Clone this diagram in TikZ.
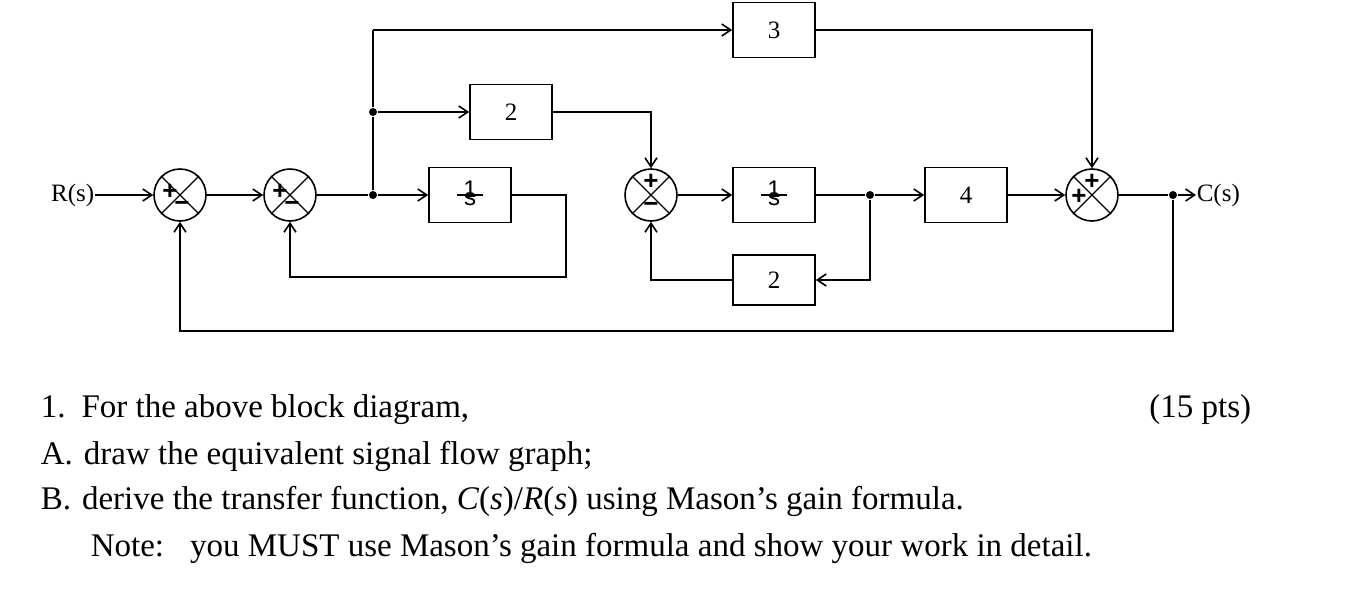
\documentclass[tikz,border=0pt]{standalone}
\usepackage{fontspec}
\setmainfont{Liberation Serif}
\newfontfamily\arialf{Liberation Sans}
\usetikzlibrary{arrows.meta}
\begin{document}
\begin{tikzpicture}[x=1pt,y=-1pt,line width=1.6pt,
  blk/.style={draw,minimum width=82pt,minimum height=55pt,inner sep=0pt,font=\fontsize{25}{25}\selectfont},
  sm/.style={draw,circle,minimum size=52pt,inner sep=0pt},
  dot/.style={circle,fill,inner sep=0pt,minimum size=8pt},
  ar/.style={-{Straight Barb[length=9pt,width=12pt]}},
  sg/.style={font=\fontsize{26}{26}\selectfont\bfseries\arialf,inner sep=0pt},
  fr/.style={font=\fontsize{24}{24}\selectfont\arialf,inner sep=0pt},
  txt/.style={anchor=base west,font=\fontsize{33}{33}\selectfont,inner sep=0pt}]
\useasboundingbox (0,0) rectangle (1360,600);
\node[anchor=east,inner sep=0pt,font=\fontsize{25}{25}\selectfont] (R) at (95,195) {R(s)};
\node[sm] (s1) at (180,195) {};
\node[sm] (s2) at (290,195) {};
\node[sm] (s3) at (651,195) {};
\node[sm] (s4) at (1092,195) {};
\foreach \s in {s1,s2,s3,s4}{\draw[line width=1.3pt] (\s.north west)--(\s.south east) (\s.north east)--(\s.south west);}
\node[sg] at (170,192) {+}; \node[sg] at (182,206) {−};
\node[sg] at (280,192) {+}; \node[sg] at (292,206) {−};
\node[sg] at (651,182) {+}; \node[sg] at (651,207) {−};
\node[sg] at (1079,197) {+}; \node[sg] at (1092,182) {+};
\node[blk] (i1) at (470,195) {};
\node[blk] (i2) at (774,195) {};
\foreach \b in {i1,i2}{
  \node[fr,anchor=south] at ([yshift=-3pt]\b.center) {1};
  \node[fr,anchor=north] at ([yshift=3pt]\b.center) {s};
  \draw[line width=1.6pt] ([xshift=-13pt]\b.center)--([xshift=13pt]\b.center);}
\node[blk] (b3) at (774,30) {3};
\node[blk] (b2) at (511,112) {2};
\node[blk] (b4) at (966,195) {4};
\node[blk,minimum height=50pt] (b2l) at (774,280) {2};
\node[dot] (d1) at (373,195) {};
\node[dot] (d2) at (373,112) {};
\node[dot] (d3) at (870,195) {};
\node[dot] (d4) at (1173,195) {};
\node[anchor=west,inner sep=0pt,font=\fontsize{25}{25}\selectfont] (C) at (1196,195) {C(s)};
\coordinate (t) at (373,30);
\draw[ar] (R)--(s1);
\draw[ar] (s1)--(s2);
\draw (s2)--(d1);
\draw[ar] (d1)--(i1);
\draw[ar] (i1.east)--(566,195)--(566,277)--(290,277)--(s2.south);
\draw (d1)--(d2)--(t);
\draw[ar] (d2)--(b2);
\draw[ar] (t)--(b3);
\draw[ar] (b2.east)--(651,112)--(s3.north);
\draw[ar] (s3)--(i2);
\draw (i2)--(d3);
\draw[ar] (d3)--(b4);
\draw[ar] (d3)--(870,280)--(b2l.east);
\draw[ar] (b2l.west)--(651,280)--(s3.south);
\draw[ar] (b4)--(s4);
\draw[ar] (b3.east)--(1092,30)--(s4.north);
\draw (s4)--(d4);
\draw[ar] (d4)--(C);
\draw[ar] (d4)--(1173,331)--(180,331)--(s1.south);
\node[txt] at (40,417) {1.\hspace{16pt}For the above block diagram,};
\node[txt,anchor=base east] at (1252,417) {(15 pts)};
\node[txt] at (40,464) {A.\hspace{11pt}draw the equivalent signal flow graph;};
\node[txt] at (40,509) {B.\hspace{11pt}derive the transfer function, \textit{C}(\textit{s})/\textit{R}(\textit{s}) using Mason's gain formula.};
\node[txt] at (90,556) {Note:\hspace{26pt}you MUST use Mason's gain formula and show your work in detail.};
\end{tikzpicture}
\end{document}
